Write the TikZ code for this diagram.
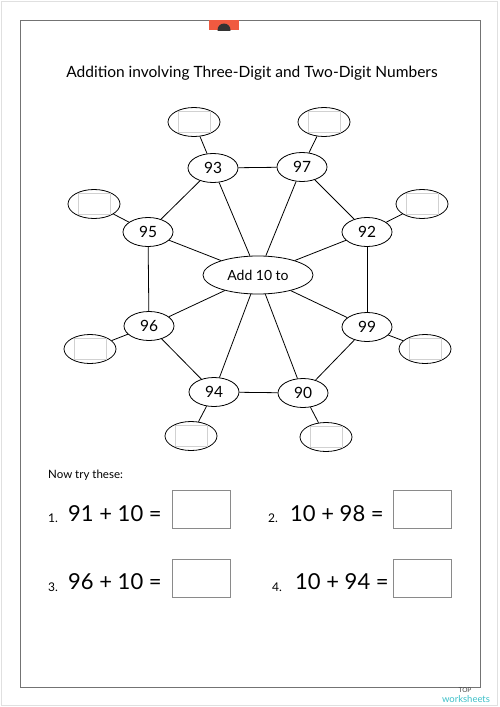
\documentclass[tikz,border=0pt]{standalone}
\usepackage{fontspec}
\setmainfont{Lato}
\usetikzlibrary{shapes.geometric}
\definecolor{tabred}{HTML}{F05A40}
\definecolor{teal}{HTML}{3EC1C9}
\definecolor{boxgray}{HTML}{8A8A8A}
\tikzset{
  numnode/.style={ellipse,draw=black,line width=0.8pt,minimum width=50pt,minimum height=29pt,inner sep=0pt,font=\fontsize{15.5}{15.5}\selectfont},
  bubble/.style={ellipse,draw=black,line width=0.8pt,minimum width=52pt,minimum height=29pt,inner sep=0pt},
  innerbox/.style={rectangle,draw=black!18,line width=0.8pt,minimum width=32pt,minimum height=21pt,inner sep=0pt},
  link/.style={line width=0.8pt,black},
  eq/.style={anchor=west,inner sep=0pt,font=\fontsize{22}{22}\selectfont},
  numlabel/.style={anchor=west,inner sep=0pt,font=\fontsize{12}{12}\selectfont},
  ansbox/.style={rectangle,draw=boxgray,line width=1pt,minimum width=58pt,minimum height=38pt,inner sep=0pt}
}
\begin{document}
\begin{tikzpicture}[x=1pt,y=-1pt]
\useasboundingbox (0,0) rectangle (500,707);
\fill[white] (0,0) rectangle (500,707);
\draw[black!12,line width=1pt] (1.5,1.5) rectangle (497,705.5);
\draw[black!55,line width=0.8pt] (20.5,20.5) rectangle (480.5,687.5);
% red tab
\begin{scope}
\clip (209,20) rectangle (239,30);
\fill[tabred] (209,20) rectangle (239,30);
\fill[black!80] (224,30) circle[radius=6.5];
\end{scope}
% title
\node[inner sep=0pt,font=\fontsize{15.5}{16}\selectfont] (title) at (252,73) {Addition involving Three-Digit and Two-Digit Numbers};
% center
\node[ellipse,draw=black,line width=0.8pt,minimum width=110pt,minimum height=38pt,inner sep=0pt,font=\fontsize{14}{14}\selectfont] (c) at (258,275) {Add 10 to};
% numbers
\node[numnode] (n93) at (213,168) {93};
\node[numnode] (n97) at (302,167) {97};
\node[numnode] (n95) at (148,232) {95};
\node[numnode] (n92) at (367,232) {92};
\node[numnode] (n96) at (149,326) {96};
\node[numnode] (n99) at (367,327) {99};
\node[numnode] (n94) at (214,392) {94};
\node[numnode] (n90) at (303,393) {90};
% bubbles
\foreach \n/\x/\y in {b93/194/122, b97/324/122, b95/94/204, b92/422/204, b96/90/349, b99/425/349, b94/191/436, b90/326/437}{
  \node[bubble] (\n) at (\x,\y) {};
  \node[innerbox] at (\x,\y) {};
}
% links
\foreach \a in {n93,n97,n95,n92,n96,n99,n94,n90}{\draw[link] (c) -- (\a);}
\draw[link] (n93) -- (n97);
\draw[link] (n97) -- (n92);
\draw[link] (n92) -- (n99);
\draw[link] (n99) -- (n90);
\draw[link] (n90) -- (n94);
\draw[link] (n94) -- (n96);
\draw[link] (n96) -- (n95);
\draw[link] (n95) -- (n93);
\draw[link] (n93) -- (b93);
\draw[link] (n97) -- (b97);
\draw[link] (n95) -- (b95);
\draw[link] (n92) -- (b92);
\draw[link] (n96) -- (b96);
\draw[link] (n99) -- (b99);
\draw[link] (n94) -- (b94);
\draw[link] (n90) -- (b90);
% exercises
\node[anchor=west,inner sep=0pt,font=\fontsize{11.5}{11.5}\selectfont] (now) at (48,475) {Now try these:};
\node[numlabel] (l1) at (48,518) {1.};
\node[eq] (e1) at (68,514) {91 + 10 =};
\node[ansbox] (a1) at (201,509) {};
\node[numlabel] (l2) at (268,518) {2.};
\node[eq] (e2) at (290,514) {10 + 98 =};
\node[ansbox] (a2) at (422,509) {};
\node[numlabel] (l3) at (48,587) {3.};
\node[eq] (e3) at (68,582) {96 + 10 =};
\node[ansbox] (a3) at (201,578) {};
\node[numlabel] (l4) at (272,587) {4.};
\node[eq] (e4) at (295,582) {10 + 94 =};
\node[ansbox] (a4) at (422,578) {};
% footer
\node[inner sep=0pt,font=\fontsize{6.5}{6.5}\selectfont,text=black!75] (top) at (465,690) {TOP};
\node[inner sep=0pt,font=\fontsize{9.5}{9.5}\selectfont,text=teal] (ws) at (466,699) {worksheets};
\end{tikzpicture}
\end{document}
